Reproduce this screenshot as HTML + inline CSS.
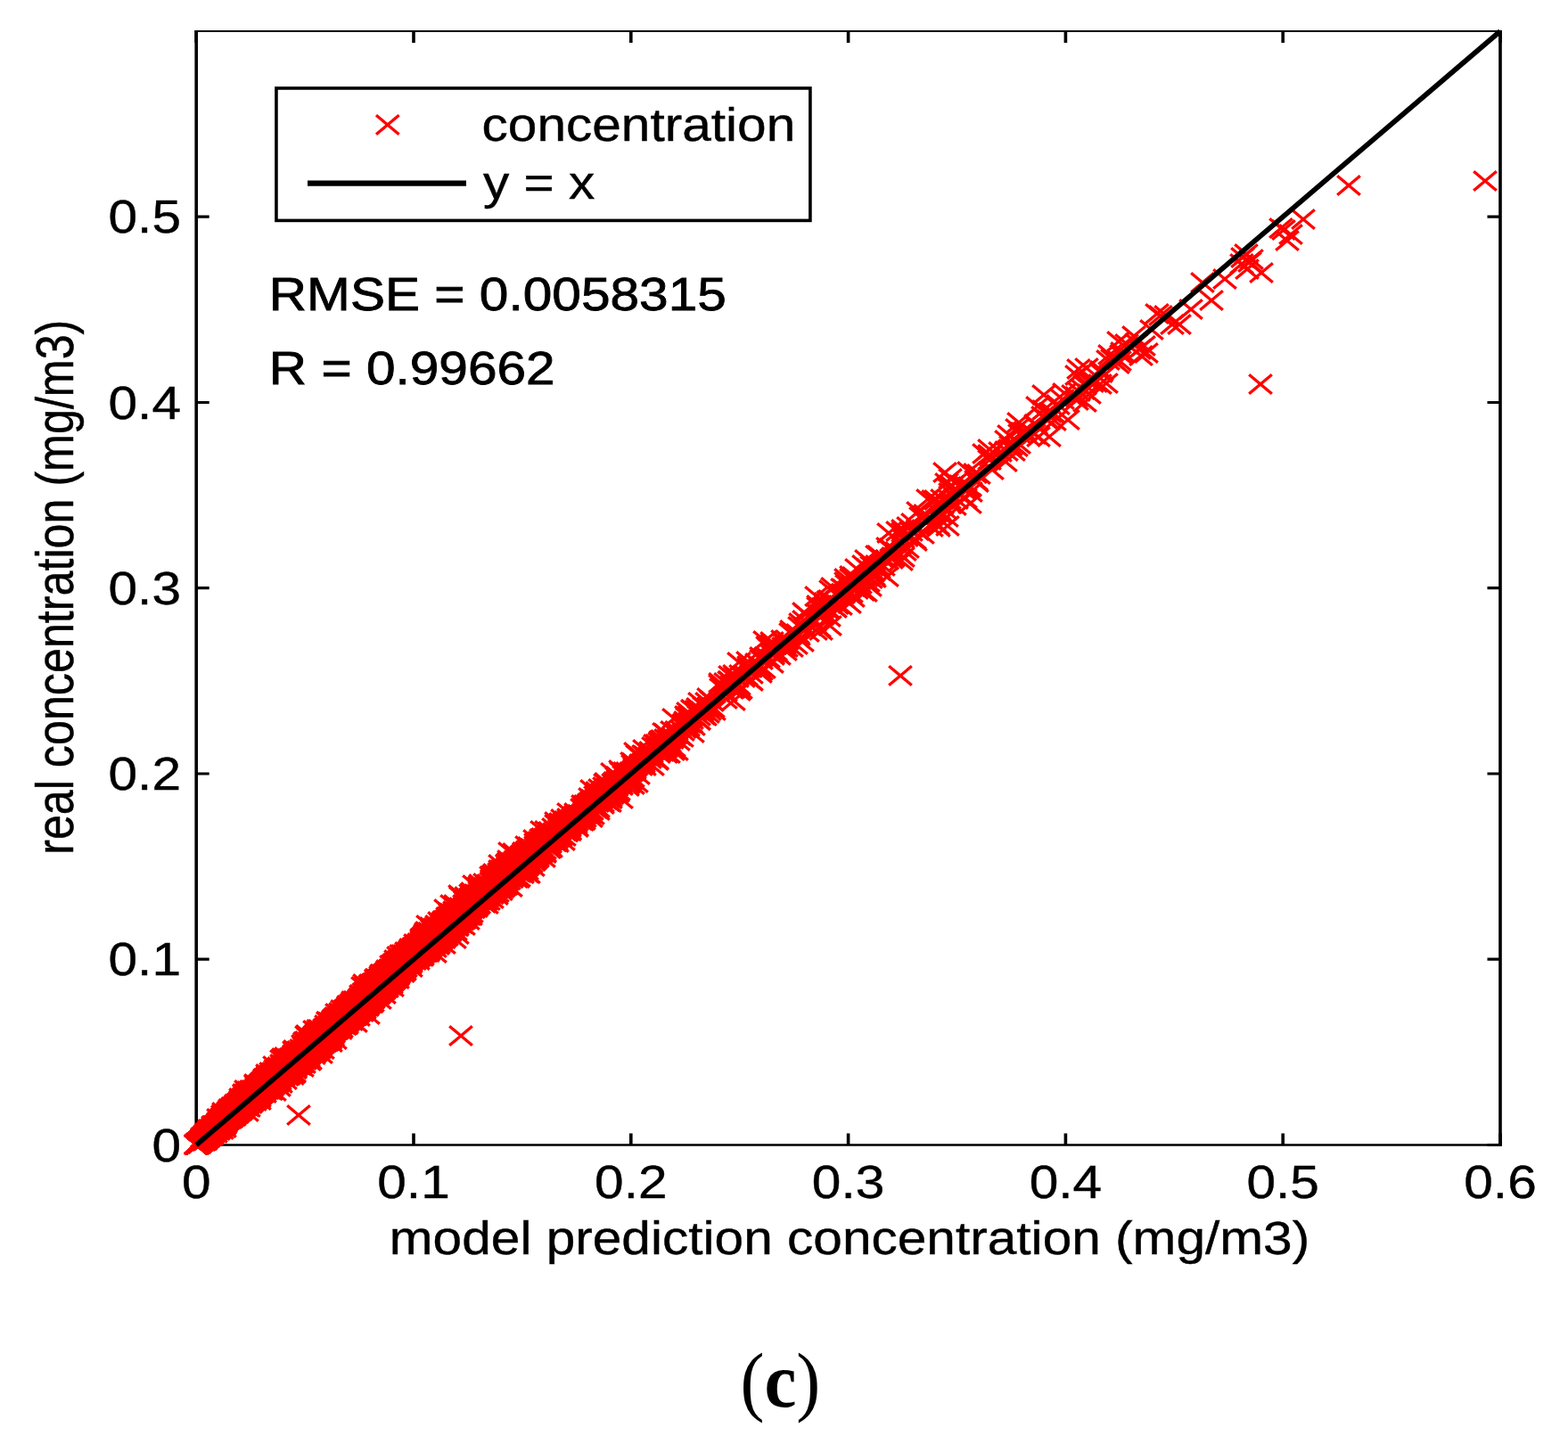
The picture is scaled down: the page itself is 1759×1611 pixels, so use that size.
<!DOCTYPE html><html><head><meta charset="utf-8"><title>scatter</title><style>html,body{margin:0;padding:0;background:#fff;overflow:hidden}svg{display:block}</style></head><body><svg width="1759" height="1611" viewBox="0 0 1759 1611" font-family="Liberation Sans, Arial, sans-serif"><rect x="0" y="0" width="1759" height="1611" fill="#fff"/><path d="M220.2 34.0V1285.8M1683.0 34.0V1285.8" stroke="#000" stroke-width="3.6" fill="none"/><path d="M218.39999999999998 35.0H1684.8" stroke="#000" stroke-width="2.0" fill="none"/><path d="M218.39999999999998 1284.5H1684.8" stroke="#000" stroke-width="2.6" fill="none"/><path d="M220.2 1284.5v-13M220.2 35.0v13M464.0 1284.5v-13M464.0 35.0v13M707.8 1284.5v-13M707.8 35.0v13M951.6 1284.5v-13M951.6 35.0v13M1195.4 1284.5v-13M1195.4 35.0v13M1439.2 1284.5v-13M1439.2 35.0v13M1683.0 1284.5v-13M1683.0 35.0v13" stroke="#000" stroke-width="3.6" fill="none"/><path d="M220.2 1284.5h14.5M1683.0 1284.5h-14.5M220.2 1076.2h14.5M1683.0 1076.2h-14.5M220.2 868.0h14.5M1683.0 868.0h-14.5M220.2 659.7h14.5M1683.0 659.7h-14.5M220.2 451.5h14.5M1683.0 451.5h-14.5M220.2 243.2h14.5M1683.0 243.2h-14.5" stroke="#000" stroke-width="3.2" fill="none"/><defs><marker id="m" markerUnits="userSpaceOnUse" markerWidth="40" markerHeight="40" refX="20" refY="20" overflow="visible"><path d="M7.199999999999999 9.25l25.6 21.5m0 -21.5l-25.6 21.5" stroke="#f00" stroke-width="3.3" fill="none"/></marker></defs><path d="M220 1284 220 1284 220 1284 220 1284 220 1284 220 1284 220 1284 220 1284 220 1284 220 1284 220 1284 220 1284 220 1284 220 1284 220 1284 220 1284 220 1284 220 1284 220 1284 220 1284 220 1284 221 1284 221 1284 221 1284 221 1284 221 1284 221 1284 221 1284 221 1284 221 1284 221 1284 221 1284 221 1284 221 1284 221 1284 221 1284 221 1284 221 1284 221 1284 221 1284 221 1284 221 1284 221 1283 221 1284 221 1284 221 1284 221 1284 221 1284 221 1284 221 1284 221 1283 221 1283 221 1283 222 1283 222 1283 222 1283 222 1283 222 1283 222 1283 222 1283 222 1283 222 1283 222 1283 222 1283 222 1283 222 1283 222 1283 222 1283 222 1283 222 1283 222 1283 222 1283 222 1283 222 1283 222 1283 222 1283 222 1283 222 1283 222 1283 222 1283 222 1283 222 1283 222 1283 222 1283 222 1283 222 1283 222 1283 222 1282 222 1282 222 1283 222 1283 222 1283 222 1283 222 1282 222 1283 223 1282 223 1283 223 1282 223 1282 223 1283 223 1282 223 1282 223 1282 223 1282 223 1282 223 1282 223 1282 223 1283 223 1282 223 1282 223 1282 223 1282 223 1282 223 1282 223 1282 223 1282 223 1282 223 1282 223 1282 223 1282 223 1282 223 1282 223 1282 223 1282 223 1282 223 1282 223 1282 223 1282 223 1282 223 1282 223 1282 223 1282 223 1282 223 1282 223 1282 224 1281 224 1282 224 1282 224 1282 224 1281 224 1281 224 1282 224 1282 224 1281 224 1281 224 1281 224 1281 224 1281 224 1283 224 1281 224 1281 224 1281 224 1281 224 1282 224 1281 224 1281 224 1281 224 1281 224 1281 224 1281 224 1281 224 1281 224 1281 224 1281 224 1281 224 1282 224 1281 224 1281 224 1281 224 1281 224 1281 225 1280 225 1280 225 1280 225 1281 225 1280 225 1281 225 1281 225 1280 225 1281 225 1281 225 1280 225 1280 225 1280 225 1281 225 1280 225 1280 225 1280 225 1281 225 1280 225 1280 225 1281 225 1280 225 1280 225 1280 225 1280 226 1279 226 1280 226 1280 226 1280 226 1279 226 1279 226 1280 226 1280 226 1279 226 1280 226 1280 226 1279 226 1279 226 1280 226 1279 226 1279 226 1279 226 1280 226 1279 226 1279 226 1280 226 1279 226 1279 226 1279 226 1279 227 1279 227 1279 227 1278 227 1279 227 1279 227 1280 227 1279 227 1279 227 1279 227 1279 227 1279 227 1279 227 1279 227 1279 227 1278 227 1280 227 1280 227 1278 227 1279 227 1279 227 1278 227 1279 227 1279 227 1277 227 1278 227 1278 227 1279 227 1278 227 1279 227 1278 227 1277 227 1279 227 1277 227 1276 227 1278 227 1278 227 1278 227 1278 227 1278 228 1278 228 1278 228 1278 228 1278 228 1278 228 1278 228 1277 228 1278 228 1278 228 1278 228 1278 228 1278 228 1279 228 1276 228 1279 228 1278 228 1278 228 1278 228 1277 228 1278 228 1278 228 1278 228 1277 228 1278 228 1278 228 1277 228 1277 228 1278 228 1278 228 1278 228 1278 228 1278 228 1278 228 1276 228 1277 228 1277 228 1277 228 1277 228 1277 228 1278 228 1277 228 1279 228 1277 228 1277 229 1277 229 1277 229 1277 229 1277 229 1277 229 1277 229 1277 229 1277 229 1277 229 1277 229 1278 229 1276 229 1278 229 1279 229 1276 229 1278 229 1277 229 1277 229 1276 229 1277 229 1277 229 1276 229 1277 229 1276 229 1280 229 1276 229 1278 229 1278 229 1277 229 1277 229 1276 229 1277 229 1276 229 1277 229 1275 229 1276 229 1276 229 1277 229 1276 230 1276 230 1277 230 1277 230 1276 230 1276 230 1276 230 1276 230 1276 230 1276 230 1276 230 1276 230 1276 230 1276 230 1276 230 1277 230 1273 230 1276 230 1276 230 1276 230 1276 230 1275 230 1277 230 1279 230 1276 230 1275 230 1276 230 1276 230 1275 230 1276 230 1275 230 1276 230 1276 231 1275 231 1275 231 1276 231 1275 231 1276 231 1278 231 1275 231 1277 231 1274 231 1275 231 1275 231 1274 231 1276 231 1276 231 1275 231 1275 231 1276 231 1275 231 1276 231 1279 231 1275 231 1275 231 1275 231 1273 231 1276 231 1275 231 1275 231 1275 231 1276 231 1276 231 1275 231 1275 231 1277 231 1275 231 1275 231 1275 231 1275 231 1276 231 1275 231 1274 231 1274 231 1276 231 1275 231 1275 231 1275 232 1275 232 1274 232 1275 232 1275 232 1273 232 1275 232 1274 232 1274 232 1272 232 1275 232 1275 232 1276 232 1273 232 1275 232 1275 232 1274 232 1275 232 1276 232 1274 232 1271 232 1274 232 1275 232 1274 232 1274 232 1273 232 1275 232 1275 232 1274 232 1274 232 1273 232 1273 232 1275 232 1274 232 1272 232 1275 232 1274 232 1274 232 1274 233 1272 233 1274 233 1274 233 1273 233 1273 233 1274 233 1273 233 1273 233 1275 233 1273 233 1275 233 1274 233 1274 233 1274 233 1274 233 1275 233 1274 233 1273 233 1275 233 1273 233 1273 233 1272 233 1274 233 1274 233 1274 233 1273 233 1273 233 1273 233 1273 233 1271 233 1273 233 1274 233 1272 233 1272 233 1274 233 1271 233 1273 233 1274 233 1274 233 1272 233 1273 233 1274 233 1273 233 1272 233 1274 233 1276 233 1274 233 1273 234 1273 234 1273 234 1272 234 1272 234 1272 234 1273 234 1272 234 1276 234 1273 234 1273 234 1274 234 1272 234 1272 234 1272 234 1272 234 1273 234 1273 234 1272 234 1273 234 1272 234 1273 234 1273 234 1274 234 1272 234 1273 234 1271 234 1274 234 1271 234 1274 234 1273 234 1272 234 1272 234 1273 234 1272 234 1272 234 1272 234 1272 234 1273 235 1271 235 1271 235 1272 235 1269 235 1270 235 1271 235 1271 235 1271 235 1271 235 1272 235 1272 235 1268 235 1272 235 1271 235 1272 235 1273 235 1272 235 1272 235 1272 235 1267 235 1272 235 1271 235 1271 235 1270 235 1271 235 1272 235 1274 235 1272 235 1272 235 1272 235 1269 235 1271 235 1270 235 1273 236 1273 236 1272 236 1272 236 1271 236 1270 236 1272 236 1274 236 1271 236 1270 236 1270 236 1271 236 1269 236 1269 236 1273 236 1269 236 1270 236 1271 236 1270 236 1270 236 1271 236 1270 236 1270 236 1273 236 1270 236 1269 236 1271 236 1273 236 1269 236 1269 236 1270 236 1271 236 1270 237 1269 237 1271 237 1270 237 1273 237 1270 237 1270 237 1269 237 1270 237 1271 237 1271 237 1268 237 1267 237 1270 237 1269 237 1269 237 1271 237 1269 237 1270 237 1269 237 1269 237 1269 237 1269 237 1270 237 1268 237 1269 237 1269 237 1269 237 1271 237 1271 237 1269 237 1270 237 1270 237 1272 238 1270 238 1270 238 1268 238 1270 238 1269 238 1270 238 1269 238 1268 238 1270 238 1266 238 1270 238 1268 238 1269 238 1269 238 1266 238 1268 238 1268 238 1268 238 1267 238 1268 238 1268 238 1270 238 1270 238 1269 238 1268 238 1273 238 1269 238 1268 238 1268 238 1268 238 1268 238 1268 238 1269 238 1268 238 1272 238 1267 239 1270 239 1266 239 1263 239 1270 239 1269 239 1269 239 1266 239 1268 239 1269 239 1267 239 1268 239 1266 239 1268 239 1268 239 1268 239 1268 239 1268 239 1267 239 1267 239 1267 239 1267 239 1267 239 1267 239 1267 239 1267 239 1268 239 1268 239 1268 239 1269 239 1268 239 1267 239 1268 239 1268 239 1267 239 1270 239 1269 239 1267 239 1269 239 1267 239 1267 239 1268 239 1267 240 1269 240 1267 240 1267 240 1267 240 1268 240 1266 240 1267 240 1268 240 1268 240 1267 240 1269 240 1267 240 1267 240 1265 240 1263 240 1267 240 1268 240 1266 240 1267 240 1267 240 1265 240 1266 240 1268 240 1266 240 1268 240 1265 240 1266 240 1268 240 1268 240 1265 240 1267 241 1267 241 1264 241 1265 241 1268 241 1266 241 1266 241 1266 241 1265 241 1266 241 1267 241 1266 241 1265 241 1265 241 1267 241 1267 241 1266 241 1267 241 1265 241 1266 241 1269 241 1266 241 1266 241 1267 241 1267 241 1267 241 1266 241 1267 241 1268 241 1267 241 1266 241 1265 241 1263 241 1266 241 1264 241 1265 241 1266 241 1265 241 1265 242 1265 242 1264 242 1266 242 1265 242 1265 242 1266 242 1265 242 1266 242 1265 242 1263 242 1265 242 1265 242 1268 242 1264 242 1265 242 1264 242 1266 242 1266 242 1266 242 1264 242 1265 242 1271 242 1264 242 1266 242 1265 242 1265 243 1266 243 1262 243 1263 243 1264 243 1266 243 1266 243 1266 243 1265 243 1262 243 1263 243 1267 243 1265 243 1263 243 1265 243 1263 243 1263 243 1264 243 1263 243 1265 243 1263 243 1264 243 1265 244 1265 244 1264 244 1262 244 1265 244 1263 244 1267 244 1262 244 1264 244 1263 244 1264 244 1263 244 1262 244 1265 244 1264 244 1263 244 1261 244 1262 244 1264 244 1264 244 1264 244 1262 244 1263 244 1264 244 1264 244 1261 244 1264 245 1264 245 1265 245 1263 245 1260 245 1261 245 1264 245 1265 245 1262 245 1261 245 1264 245 1259 245 1260 245 1263 245 1264 245 1263 245 1265 245 1263 245 1264 245 1261 245 1263 245 1262 245 1255 245 1262 245 1263 245 1261 245 1261 245 1268 245 1259 245 1262 245 1263 245 1262 245 1263 246 1260 246 1263 246 1262 246 1260 246 1262 246 1261 246 1263 246 1262 246 1264 246 1261 246 1260 246 1262 246 1262 246 1262 246 1261 246 1263 246 1261 246 1261 246 1262 246 1260 246 1260 246 1263 246 1261 246 1258 246 1266 246 1262 246 1261 246 1262 246 1260 246 1259 247 1259 247 1260 247 1259 247 1262 247 1260 247 1261 247 1261 247 1259 247 1259 247 1260 247 1260 247 1261 247 1262 247 1258 247 1262 247 1259 247 1260 247 1259 247 1263 247 1262 247 1262 247 1260 247 1260 247 1264 247 1261 247 1260 247 1259 247 1261 247 1262 247 1261 247 1260 247 1261 247 1260 248 1257 248 1260 248 1261 248 1259 248 1258 248 1256 248 1260 248 1260 248 1258 248 1260 248 1256 248 1261 248 1261 248 1257 248 1263 248 1259 248 1260 248 1259 248 1260 248 1261 248 1259 248 1259 248 1259 248 1258 248 1261 248 1259 248 1260 248 1261 248 1259 248 1259 249 1257 249 1261 249 1259 249 1258 249 1258 249 1263 249 1260 249 1256 249 1258 249 1262 249 1267 249 1257 249 1261 249 1258 249 1259 249 1259 249 1255 249 1258 249 1258 249 1258 249 1258 249 1261 249 1257 249 1258 249 1260 249 1258 249 1259 249 1259 249 1258 249 1262 249 1258 249 1257 249 1254 249 1261 250 1257 250 1259 250 1259 250 1262 250 1256 250 1258 250 1260 250 1258 250 1258 250 1259 250 1257 250 1257 250 1257 250 1260 250 1257 250 1258 250 1258 250 1257 250 1258 250 1255 250 1260 250 1258 250 1257 250 1257 250 1257 250 1256 250 1260 250 1260 250 1257 250 1259 250 1258 250 1259 250 1260 250 1251 250 1256 250 1257 250 1251 251 1254 251 1256 251 1259 251 1257 251 1255 251 1256 251 1258 251 1258 251 1256 251 1257 251 1259 251 1258 251 1256 251 1256 251 1248 251 1255 251 1259 251 1257 251 1257 251 1255 251 1257 251 1256 251 1256 251 1255 251 1257 252 1256 252 1265 252 1255 252 1255 252 1256 252 1256 252 1254 252 1253 252 1257 252 1257 252 1255 252 1256 252 1258 252 1257 252 1256 252 1257 252 1256 252 1255 252 1259 252 1255 252 1257 252 1254 252 1255 252 1257 252 1255 252 1256 252 1256 252 1256 252 1255 252 1256 252 1255 252 1255 252 1253 252 1252 252 1256 252 1256 252 1257 252 1252 252 1262 252 1253 252 1255 252 1255 252 1252 253 1257 253 1256 253 1255 253 1256 253 1257 253 1254 253 1253 253 1256 253 1260 253 1253 253 1252 253 1253 253 1254 253 1253 253 1256 253 1251 253 1256 253 1255 253 1253 253 1253 254 1254 254 1255 254 1254 254 1256 254 1254 254 1255 254 1253 254 1253 254 1250 254 1254 254 1256 254 1251 254 1256 254 1257 254 1252 254 1253 254 1253 254 1253 254 1253 254 1255 254 1253 254 1251 254 1255 254 1256 254 1251 254 1253 254 1253 254 1255 254 1258 254 1257 255 1256 255 1252 255 1253 255 1251 255 1250 255 1253 255 1254 255 1254 255 1255 255 1252 255 1254 255 1254 255 1252 255 1255 255 1250 255 1255 255 1251 255 1253 255 1251 255 1253 255 1254 255 1255 255 1252 255 1252 255 1256 255 1255 255 1252 255 1251 255 1254 255 1253 255 1254 256 1254 256 1250 256 1252 256 1250 256 1251 256 1253 256 1256 256 1251 256 1254 256 1254 256 1251 256 1252 256 1252 256 1251 256 1253 256 1252 256 1253 256 1251 256 1254 256 1254 256 1253 256 1247 256 1251 256 1252 256 1253 256 1254 256 1252 256 1253 256 1252 256 1250 256 1254 256 1251 256 1253 256 1249 256 1252 256 1254 257 1254 257 1249 257 1253 257 1253 257 1254 257 1254 257 1254 257 1252 257 1253 257 1251 257 1254 257 1251 257 1251 257 1253 257 1251 257 1253 257 1250 257 1250 257 1255 257 1254 257 1249 257 1251 257 1250 257 1251 257 1254 257 1250 257 1249 257 1252 257 1252 257 1251 257 1250 257 1251 257 1254 257 1251 257 1252 257 1250 258 1250 258 1253 258 1255 258 1247 258 1250 258 1253 258 1251 258 1252 258 1253 258 1245 258 1250 258 1250 258 1253 258 1251 258 1252 258 1249 258 1251 258 1249 258 1250 258 1244 258 1251 258 1254 258 1252 258 1249 258 1249 258 1247 258 1254 258 1252 258 1251 258 1248 258 1250 258 1249 258 1249 258 1249 258 1254 258 1249 258 1249 259 1251 259 1249 259 1250 259 1250 259 1253 259 1247 259 1252 259 1251 259 1246 259 1251 259 1251 259 1250 259 1247 259 1251 259 1249 259 1249 259 1246 259 1249 259 1249 259 1251 259 1253 259 1250 259 1249 259 1246 259 1252 259 1248 260 1245 260 1249 260 1249 260 1248 260 1248 260 1249 260 1249 260 1248 260 1248 260 1251 260 1251 260 1251 260 1249 260 1249 260 1249 260 1247 260 1249 260 1254 260 1251 260 1248 260 1251 260 1250 260 1252 260 1248 260 1246 260 1249 260 1250 260 1248 260 1247 260 1249 260 1248 260 1249 260 1247 260 1248 261 1247 261 1248 261 1250 261 1248 261 1246 261 1247 261 1249 261 1251 261 1250 261 1247 261 1246 261 1247 261 1242 261 1247 261 1245 261 1252 261 1246 261 1248 261 1249 261 1249 261 1248 261 1247 261 1247 261 1247 261 1245 261 1244 261 1252 261 1247 261 1248 261 1243 261 1249 261 1247 261 1251 261 1248 262 1244 262 1247 262 1245 262 1248 262 1247 262 1247 262 1248 262 1247 262 1243 262 1247 262 1244 262 1245 262 1248 262 1244 262 1247 262 1247 262 1248 262 1245 262 1247 262 1246 262 1247 262 1246 262 1247 262 1246 262 1245 262 1247 262 1247 262 1248 262 1246 262 1250 262 1245 262 1248 262 1246 262 1245 263 1244 263 1247 263 1242 263 1244 263 1243 263 1246 263 1248 263 1247 263 1247 263 1246 263 1249 263 1249 263 1245 263 1247 263 1245 263 1247 263 1252 263 1248 263 1244 263 1248 263 1245 263 1244 263 1247 263 1243 263 1247 263 1244 263 1247 263 1247 263 1243 263 1245 263 1245 263 1246 263 1245 264 1245 264 1247 264 1245 264 1243 264 1248 264 1247 264 1246 264 1245 264 1247 264 1240 264 1246 264 1242 264 1245 264 1246 264 1244 264 1245 264 1247 264 1245 264 1248 264 1244 264 1244 264 1246 264 1245 264 1241 264 1241 264 1246 264 1248 264 1244 264 1247 264 1246 264 1244 264 1250 264 1242 264 1246 264 1243 264 1247 265 1245 265 1245 265 1245 265 1244 265 1246 265 1246 265 1243 265 1247 265 1247 265 1244 265 1243 265 1246 265 1246 265 1239 265 1246 265 1240 265 1247 265 1242 265 1243 265 1243 265 1244 265 1242 265 1244 265 1245 265 1244 265 1245 265 1244 265 1244 265 1239 265 1246 265 1243 265 1239 266 1246 266 1246 266 1242 266 1245 266 1242 266 1244 266 1246 266 1247 266 1240 266 1247 266 1241 266 1242 266 1243 266 1245 266 1242 266 1245 266 1247 266 1242 266 1245 266 1246 266 1243 266 1241 266 1249 266 1244 266 1243 266 1248 266 1240 266 1241 266 1240 266 1243 266 1249 266 1243 266 1246 266 1244 266 1242 266 1242 267 1240 267 1243 267 1247 267 1248 267 1242 267 1242 267 1242 267 1246 267 1241 267 1241 267 1239 267 1241 267 1240 267 1245 267 1242 267 1239 267 1241 267 1241 267 1240 267 1242 267 1245 267 1238 267 1242 267 1241 267 1238 267 1244 267 1245 268 1241 268 1244 268 1237 268 1242 268 1240 268 1244 268 1243 268 1244 268 1241 268 1244 268 1244 268 1242 268 1242 268 1245 268 1242 268 1238 268 1243 268 1243 268 1243 268 1245 268 1239 268 1238 268 1238 268 1245 268 1239 268 1240 268 1240 268 1239 268 1242 268 1242 268 1241 268 1247 268 1243 268 1240 268 1244 268 1240 268 1242 268 1242 268 1239 268 1238 269 1239 269 1242 269 1239 269 1238 269 1240 269 1240 269 1239 269 1239 269 1241 269 1241 269 1243 269 1240 269 1241 269 1243 269 1241 269 1239 269 1241 269 1241 269 1236 269 1238 269 1241 269 1241 270 1234 270 1238 270 1243 270 1239 270 1244 270 1241 270 1242 270 1242 270 1237 270 1240 270 1240 270 1242 270 1239 270 1238 270 1240 270 1240 270 1243 270 1243 270 1241 270 1232 270 1240 270 1241 270 1242 270 1238 270 1240 270 1241 270 1244 270 1244 270 1237 270 1238 270 1241 270 1239 270 1241 270 1243 270 1240 270 1239 270 1246 270 1238 270 1236 270 1237 270 1238 271 1237 271 1241 271 1238 271 1240 271 1240 271 1238 271 1235 271 1238 271 1238 271 1240 271 1239 271 1241 271 1237 271 1237 271 1238 271 1239 271 1240 271 1236 271 1239 271 1241 271 1243 271 1238 271 1238 271 1237 271 1238 271 1240 271 1241 271 1236 272 1238 272 1237 272 1242 272 1238 272 1240 272 1237 272 1242 272 1241 272 1240 272 1238 272 1240 272 1236 272 1238 272 1236 272 1236 272 1238 272 1239 272 1236 272 1238 272 1239 272 1236 272 1244 272 1241 272 1238 272 1238 272 1237 272 1236 272 1238 273 1235 273 1240 273 1235 273 1239 273 1239 273 1235 273 1240 273 1240 273 1236 273 1241 273 1237 273 1238 273 1239 273 1241 273 1237 273 1239 273 1241 273 1234 273 1238 273 1237 273 1240 273 1235 273 1238 273 1241 273 1237 273 1243 273 1237 273 1239 273 1237 273 1235 273 1232 273 1232 273 1237 273 1240 274 1236 274 1237 274 1235 274 1238 274 1235 274 1239 274 1236 274 1235 274 1237 274 1236 274 1240 274 1239 274 1236 274 1228 274 1237 274 1236 274 1235 274 1235 274 1238 274 1235 274 1237 274 1239 274 1235 274 1232 274 1236 274 1234 274 1233 274 1227 274 1241 274 1233 274 1237 274 1233 274 1238 274 1235 274 1238 275 1237 275 1236 275 1236 275 1237 275 1238 275 1236 275 1239 275 1235 275 1234 275 1236 275 1237 275 1238 275 1232 275 1235 275 1233 275 1238 275 1236 275 1237 275 1238 275 1234 275 1236 275 1237 275 1236 275 1230 275 1239 275 1237 275 1233 275 1234 275 1237 275 1233 275 1237 276 1231 276 1236 276 1235 276 1237 276 1238 276 1234 276 1236 276 1235 276 1233 276 1237 276 1233 276 1237 276 1237 276 1238 276 1235 276 1238 276 1223 276 1236 276 1234 276 1236 276 1232 276 1237 276 1233 277 1238 277 1231 277 1231 277 1233 277 1232 277 1238 277 1232 277 1237 277 1236 277 1234 277 1233 277 1232 277 1238 277 1237 277 1247 277 1234 277 1232 277 1234 277 1234 277 1226 277 1232 277 1235 277 1241 277 1234 277 1235 277 1229 277 1237 277 1234 277 1233 277 1234 277 1236 278 1238 278 1234 278 1234 278 1235 278 1229 278 1236 278 1230 278 1235 278 1238 278 1235 278 1234 278 1236 278 1230 278 1235 278 1232 278 1234 278 1230 278 1235 278 1236 278 1231 278 1237 278 1233 278 1234 278 1235 278 1232 278 1233 278 1237 278 1238 278 1231 278 1231 278 1238 278 1237 278 1233 279 1232 279 1231 279 1232 279 1235 279 1233 279 1231 279 1232 279 1235 279 1232 279 1230 279 1237 279 1232 279 1233 279 1233 279 1233 279 1234 279 1232 279 1232 279 1231 279 1233 279 1230 279 1237 279 1231 279 1234 279 1234 279 1234 279 1231 279 1231 279 1232 279 1224 279 1242 279 1235 279 1232 280 1234 280 1237 280 1232 280 1229 280 1233 280 1231 280 1232 280 1235 280 1231 280 1234 280 1227 280 1228 280 1232 280 1230 280 1232 280 1232 280 1233 280 1234 280 1234 280 1235 280 1233 280 1225 280 1236 280 1231 280 1236 280 1233 280 1230 280 1232 280 1229 280 1234 280 1235 280 1233 280 1233 280 1230 280 1231 280 1231 280 1232 280 1232 281 1236 281 1231 281 1236 281 1228 281 1230 281 1228 281 1233 281 1238 281 1229 281 1233 281 1231 281 1232 281 1234 281 1230 281 1233 281 1230 281 1236 281 1234 281 1225 281 1231 281 1225 281 1228 281 1226 281 1233 281 1225 281 1230 281 1231 281 1231 281 1230 281 1230 282 1229 282 1229 282 1227 282 1234 282 1230 282 1232 282 1230 282 1232 282 1229 282 1230 282 1226 282 1232 282 1232 282 1228 282 1227 282 1228 282 1228 282 1231 282 1231 282 1231 282 1227 282 1226 282 1230 282 1231 282 1230 282 1231 282 1230 282 1223 282 1229 282 1227 282 1225 283 1228 283 1232 283 1227 283 1228 283 1229 283 1230 283 1227 283 1230 283 1228 283 1236 283 1231 283 1232 283 1225 283 1230 283 1224 283 1227 283 1231 283 1226 283 1227 283 1230 283 1229 283 1227 283 1232 283 1230 283 1226 283 1227 283 1229 283 1227 283 1234 283 1228 283 1227 283 1234 283 1227 284 1228 284 1229 284 1230 284 1226 284 1231 284 1229 284 1231 284 1223 284 1230 284 1224 284 1227 284 1229 284 1226 284 1226 284 1230 284 1227 284 1225 284 1225 284 1227 284 1229 284 1226 284 1226 285 1228 285 1229 285 1231 285 1230 285 1232 285 1232 285 1227 285 1230 285 1227 285 1230 285 1229 285 1226 285 1225 285 1234 285 1225 285 1229 285 1226 285 1229 285 1229 285 1230 285 1229 285 1225 285 1230 285 1230 285 1226 285 1229 285 1226 285 1230 285 1229 285 1229 285 1226 285 1229 285 1229 285 1230 285 1224 286 1224 286 1227 286 1227 286 1223 286 1227 286 1229 286 1227 286 1225 286 1230 286 1230 286 1225 286 1229 286 1235 286 1225 286 1226 286 1227 286 1226 286 1226 286 1230 286 1229 286 1228 286 1231 286 1230 286 1228 286 1225 286 1228 286 1228 286 1231 286 1226 287 1224 287 1222 287 1225 287 1223 287 1229 287 1223 287 1225 287 1229 287 1228 287 1225 287 1224 287 1227 287 1222 287 1216 287 1217 287 1229 287 1229 287 1229 287 1226 287 1228 287 1223 287 1229 287 1229 287 1228 287 1230 287 1223 287 1226 287 1229 287 1226 287 1227 287 1228 288 1228 288 1226 288 1225 288 1223 288 1222 288 1225 288 1221 288 1221 288 1225 288 1223 288 1221 288 1225 288 1231 288 1225 288 1227 288 1228 288 1224 288 1225 288 1227 288 1224 288 1232 288 1232 288 1226 288 1232 288 1226 288 1221 288 1222 288 1219 288 1226 288 1223 288 1225 289 1224 289 1227 289 1222 289 1226 289 1224 289 1225 289 1224 289 1225 289 1222 289 1227 289 1223 289 1231 289 1220 289 1226 289 1222 289 1222 289 1226 289 1219 289 1221 289 1226 289 1226 289 1223 289 1225 289 1227 289 1227 289 1221 289 1226 289 1222 289 1227 289 1225 289 1224 289 1223 289 1230 289 1225 290 1224 290 1227 290 1223 290 1227 290 1221 290 1224 290 1222 290 1220 290 1225 290 1224 290 1224 290 1222 290 1224 290 1226 290 1225 290 1221 290 1224 290 1222 290 1222 290 1224 290 1225 290 1224 290 1225 290 1221 290 1221 290 1223 290 1220 290 1225 291 1223 291 1223 291 1225 291 1225 291 1222 291 1220 291 1220 291 1225 291 1226 291 1220 291 1217 291 1219 291 1223 291 1223 291 1224 291 1227 291 1222 291 1223 291 1223 291 1224 291 1226 291 1231 291 1229 291 1223 291 1229 291 1234 291 1225 291 1223 291 1223 291 1226 291 1219 291 1221 292 1223 292 1223 292 1221 292 1227 292 1220 292 1222 292 1218 292 1224 292 1223 292 1222 292 1224 292 1221 292 1224 292 1221 292 1218 292 1223 292 1220 292 1224 292 1222 292 1227 292 1222 292 1226 292 1223 292 1224 292 1220 292 1219 292 1223 292 1220 292 1223 292 1219 292 1222 292 1222 292 1225 292 1222 293 1222 293 1223 293 1226 293 1221 293 1225 293 1224 293 1222 293 1219 293 1219 293 1225 293 1220 293 1222 293 1218 293 1219 293 1221 293 1222 293 1219 293 1222 293 1222 293 1220 293 1220 293 1215 293 1225 293 1223 294 1226 294 1219 294 1226 294 1220 294 1223 294 1221 294 1217 294 1222 294 1214 294 1220 294 1222 294 1219 294 1219 294 1222 294 1220 294 1220 294 1223 294 1220 294 1221 294 1221 294 1221 294 1221 294 1223 294 1220 294 1220 294 1222 294 1220 295 1220 295 1222 295 1220 295 1222 295 1221 295 1220 295 1219 295 1218 295 1214 295 1219 295 1218 295 1218 295 1219 295 1221 295 1222 295 1221 295 1220 295 1218 295 1219 295 1224 295 1217 295 1221 295 1218 295 1215 295 1217 295 1220 296 1224 296 1216 296 1222 296 1217 296 1219 296 1214 296 1218 296 1217 296 1223 296 1223 296 1220 296 1212 296 1220 296 1224 296 1215 296 1223 296 1220 296 1219 296 1219 296 1221 296 1218 296 1221 296 1219 296 1220 296 1217 296 1215 296 1217 296 1223 296 1223 296 1219 297 1216 297 1222 297 1222 297 1222 297 1218 297 1214 297 1220 297 1219 297 1210 297 1222 297 1223 297 1218 297 1226 297 1219 297 1219 297 1219 297 1222 297 1218 297 1219 297 1221 297 1218 297 1218 297 1218 297 1219 297 1213 297 1222 297 1216 297 1218 297 1217 297 1219 297 1223 298 1215 298 1215 298 1221 298 1216 298 1215 298 1221 298 1220 298 1211 298 1216 298 1210 298 1216 298 1220 298 1219 298 1218 298 1217 298 1215 298 1216 298 1222 298 1222 298 1218 298 1216 298 1218 298 1221 298 1219 298 1219 298 1221 298 1222 298 1214 298 1217 298 1219 298 1215 298 1216 298 1215 298 1210 298 1221 298 1221 299 1220 299 1215 299 1219 299 1219 299 1219 299 1217 299 1221 299 1216 299 1218 299 1216 299 1216 299 1214 299 1213 299 1217 299 1215 299 1216 299 1218 299 1213 299 1214 299 1209 299 1215 299 1210 299 1213 300 1205 300 1214 300 1216 300 1218 300 1217 300 1222 300 1215 300 1217 300 1219 300 1216 300 1218 300 1216 300 1208 300 1218 300 1211 300 1219 300 1212 300 1220 300 1215 300 1214 300 1218 300 1212 300 1215 300 1219 300 1215 300 1217 300 1218 301 1217 301 1217 301 1213 301 1218 301 1212 301 1215 301 1215 301 1214 301 1206 301 1218 301 1206 301 1220 301 1212 301 1211 301 1216 301 1217 301 1213 301 1214 301 1210 301 1220 301 1209 301 1214 301 1212 301 1215 301 1215 301 1212 301 1217 301 1214 301 1211 301 1209 301 1214 301 1210 301 1215 301 1215 301 1210 302 1212 302 1211 302 1212 302 1212 302 1213 302 1213 302 1217 302 1211 302 1212 302 1213 302 1214 302 1216 302 1211 302 1211 302 1212 302 1221 302 1213 302 1208 302 1213 302 1215 302 1222 302 1213 303 1217 303 1215 303 1216 303 1220 303 1214 303 1214 303 1214 303 1212 303 1213 303 1219 303 1211 303 1218 303 1213 303 1218 303 1213 303 1214 303 1215 303 1209 303 1214 303 1210 303 1210 303 1213 303 1216 303 1214 303 1211 304 1208 304 1213 304 1211 304 1210 304 1219 304 1210 304 1213 304 1203 304 1212 304 1214 304 1223 304 1214 304 1210 304 1206 304 1210 304 1213 304 1211 304 1212 304 1217 304 1214 304 1214 304 1213 304 1211 304 1213 304 1223 304 1216 304 1212 305 1214 305 1218 305 1212 305 1214 305 1209 305 1215 305 1208 305 1211 305 1205 305 1214 305 1211 305 1217 305 1214 305 1211 305 1213 305 1216 305 1211 305 1212 305 1214 305 1215 305 1211 306 1211 306 1218 306 1209 306 1215 306 1206 306 1208 306 1212 306 1208 306 1208 306 1210 306 1211 306 1204 306 1208 306 1214 306 1212 306 1213 306 1215 306 1211 306 1209 306 1209 306 1211 306 1208 306 1209 306 1214 306 1207 306 1211 306 1214 306 1211 306 1212 306 1207 307 1209 307 1211 307 1203 307 1212 307 1206 307 1216 307 1206 307 1210 307 1212 307 1204 307 1211 307 1208 307 1208 307 1208 307 1212 307 1211 307 1210 307 1209 307 1205 307 1206 307 1210 307 1213 307 1214 307 1209 307 1206 308 1196 308 1211 308 1209 308 1209 308 1212 308 1207 308 1210 308 1224 308 1210 308 1206 308 1207 308 1213 308 1210 308 1214 308 1205 308 1211 308 1207 308 1207 308 1211 308 1205 309 1207 309 1212 309 1212 309 1208 309 1211 309 1205 309 1205 309 1214 309 1208 309 1212 309 1212 309 1211 309 1204 309 1207 309 1211 309 1200 309 1209 309 1210 309 1206 309 1205 309 1205 309 1213 309 1209 309 1208 309 1203 309 1206 310 1208 310 1211 310 1210 310 1209 310 1210 310 1206 310 1214 310 1205 310 1213 310 1208 310 1214 310 1200 310 1208 310 1207 310 1207 310 1204 310 1210 310 1200 310 1208 310 1213 310 1211 310 1209 310 1210 310 1211 310 1211 310 1206 310 1206 311 1215 311 1209 311 1207 311 1205 311 1205 311 1204 311 1204 311 1205 311 1208 311 1211 311 1207 311 1211 311 1206 311 1204 311 1208 311 1209 311 1212 311 1205 311 1202 311 1201 311 1205 312 1207 312 1205 312 1205 312 1207 312 1207 312 1206 312 1210 312 1212 312 1207 312 1202 312 1205 312 1206 312 1205 312 1200 312 1205 312 1203 312 1206 312 1207 312 1209 312 1207 312 1205 312 1210 312 1205 312 1205 312 1206 312 1205 312 1202 312 1206 312 1199 312 1208 312 1207 313 1203 313 1206 313 1203 313 1205 313 1219 313 1203 313 1210 313 1197 313 1207 313 1202 313 1205 313 1200 313 1202 313 1202 313 1205 313 1207 313 1205 313 1201 313 1201 313 1204 313 1207 313 1206 313 1209 313 1209 313 1207 313 1203 313 1206 314 1203 314 1203 314 1201 314 1207 314 1200 314 1206 314 1209 314 1205 314 1204 314 1206 314 1205 314 1205 314 1209 314 1212 314 1200 314 1201 314 1206 314 1201 314 1202 314 1207 314 1200 314 1202 314 1205 314 1202 314 1206 314 1207 315 1202 315 1205 315 1204 315 1206 315 1206 315 1203 315 1202 315 1200 315 1200 315 1202 315 1204 315 1199 315 1207 315 1199 315 1201 315 1207 315 1207 315 1204 315 1202 315 1215 316 1206 316 1201 316 1203 316 1198 316 1206 316 1202 316 1198 316 1200 316 1189 316 1202 316 1205 316 1199 316 1201 316 1200 316 1207 316 1203 316 1194 316 1200 316 1205 316 1202 316 1201 316 1206 317 1202 317 1203 317 1199 317 1203 317 1199 317 1204 317 1208 317 1197 317 1207 317 1205 317 1205 317 1200 317 1195 317 1205 317 1203 317 1198 317 1203 317 1208 317 1199 317 1195 317 1205 317 1200 317 1199 317 1199 318 1201 318 1200 318 1199 318 1204 318 1202 318 1200 318 1200 318 1196 318 1187 318 1196 318 1204 318 1201 318 1200 318 1202 318 1206 318 1198 318 1199 318 1196 318 1197 318 1205 318 1201 318 1202 318 1196 318 1196 318 1202 318 1206 318 1203 318 1202 318 1206 318 1201 318 1199 318 1200 319 1204 319 1199 319 1199 319 1200 319 1202 319 1196 319 1200 319 1200 319 1204 319 1198 319 1204 319 1205 319 1204 319 1199 319 1201 319 1195 319 1201 319 1195 319 1196 319 1206 319 1204 319 1199 319 1195 319 1198 319 1198 319 1203 320 1200 320 1197 320 1199 320 1205 320 1197 320 1203 320 1199 320 1203 320 1211 320 1198 320 1194 320 1198 320 1199 320 1202 320 1203 320 1191 320 1202 320 1202 320 1196 320 1200 320 1203 320 1196 320 1203 320 1199 320 1203 320 1198 320 1196 320 1202 321 1196 321 1197 321 1202 321 1199 321 1201 321 1191 321 1191 321 1198 321 1194 321 1193 321 1196 321 1203 321 1201 321 1199 321 1192 321 1186 321 1196 321 1203 321 1198 321 1192 321 1198 321 1201 321 1201 321 1199 321 1199 321 1200 321 1200 321 1199 321 1197 321 1191 321 1197 321 1200 322 1197 322 1199 322 1201 322 1193 322 1197 322 1207 322 1198 322 1204 322 1197 322 1198 322 1198 322 1200 322 1196 322 1194 322 1193 322 1193 322 1195 322 1197 322 1193 322 1195 322 1198 322 1198 323 1197 323 1200 323 1200 323 1195 323 1197 323 1199 323 1194 323 1198 323 1192 323 1197 323 1196 323 1198 323 1192 323 1198 323 1197 323 1201 323 1196 323 1196 323 1191 323 1198 323 1192 323 1195 323 1201 323 1193 323 1198 323 1198 323 1191 323 1194 323 1198 323 1198 323 1195 323 1200 324 1204 324 1202 324 1196 324 1193 324 1198 324 1195 324 1193 324 1200 324 1198 324 1191 324 1200 324 1196 324 1198 324 1193 324 1188 324 1190 324 1193 324 1195 324 1193 324 1191 324 1197 324 1195 324 1197 324 1191 324 1194 324 1190 324 1199 324 1196 324 1195 324 1191 324 1194 324 1195 324 1195 324 1206 324 1198 325 1196 325 1194 325 1192 325 1201 325 1195 325 1192 325 1194 325 1199 325 1195 325 1194 325 1195 325 1196 325 1192 325 1196 325 1194 325 1197 325 1196 325 1191 325 1198 325 1196 325 1200 325 1193 325 1190 325 1194 325 1194 325 1197 325 1203 325 1197 325 1192 325 1203 325 1195 326 1194 326 1189 326 1189 326 1197 326 1197 326 1198 326 1188 326 1194 326 1189 326 1190 326 1197 326 1195 326 1198 326 1190 326 1194 326 1187 326 1196 326 1193 327 1198 327 1193 327 1196 327 1194 327 1192 327 1194 327 1189 327 1193 327 1195 327 1193 327 1191 327 1196 327 1196 327 1196 327 1188 327 1192 327 1195 327 1193 327 1198 327 1193 327 1189 327 1199 327 1198 327 1192 327 1187 327 1194 327 1189 327 1192 327 1193 327 1189 327 1191 327 1190 327 1193 327 1196 328 1192 328 1192 328 1196 328 1195 328 1202 328 1192 328 1188 328 1195 328 1190 328 1191 328 1193 328 1197 328 1188 328 1189 328 1206 328 1194 328 1194 328 1195 328 1197 328 1190 328 1188 328 1198 328 1191 328 1195 328 1190 328 1187 328 1192 329 1190 329 1197 329 1193 329 1196 329 1192 329 1188 329 1195 329 1186 329 1193 329 1189 329 1189 329 1189 329 1187 329 1193 329 1195 329 1187 329 1194 329 1192 329 1195 329 1196 329 1191 329 1185 329 1193 329 1191 329 1187 330 1193 330 1204 330 1197 330 1195 330 1190 330 1187 330 1190 330 1187 330 1203 330 1197 330 1192 330 1197 330 1194 330 1194 330 1190 330 1192 330 1192 330 1190 330 1186 330 1195 330 1192 330 1194 330 1184 330 1194 330 1195 330 1179 330 1194 330 1187 330 1183 330 1193 330 1193 330 1192 330 1191 331 1189 331 1195 331 1191 331 1191 331 1194 331 1193 331 1193 331 1178 331 1198 331 1192 331 1189 331 1192 331 1192 331 1191 331 1192 331 1189 331 1190 331 1185 331 1191 331 1180 331 1189 331 1199 331 1190 331 1190 331 1190 331 1187 331 1193 331 1191 331 1184 331 1190 331 1194 331 1199 331 1186 332 1188 332 1191 332 1195 332 1190 332 1192 332 1186 332 1189 332 1194 332 1193 332 1193 332 1183 332 1188 332 1192 332 1193 332 1193 332 1189 332 1190 332 1190 332 1186 332 1194 332 1189 332 1185 332 1192 332 1187 332 1192 332 1189 332 1190 332 1188 332 1188 332 1191 332 1193 333 1188 333 1194 333 1189 333 1195 333 1191 333 1193 333 1191 333 1188 333 1191 333 1189 333 1187 333 1188 333 1192 333 1184 333 1191 333 1189 333 1184 333 1186 333 1186 333 1184 334 1186 334 1188 334 1186 334 1188 334 1187 334 1183 334 1187 334 1183 334 1189 334 1185 334 1190 334 1189 334 1189 334 1181 334 1188 334 1192 334 1189 334 1188 334 1188 334 1187 334 1188 334 1191 334 1189 334 1183 335 1187 335 1188 335 1190 335 1185 335 1185 335 1180 335 1191 335 1187 335 1185 335 1184 335 1187 335 1185 335 1185 335 1194 335 1185 335 1192 335 1185 335 1188 335 1192 335 1180 335 1187 335 1179 335 1193 335 1186 335 1191 335 1186 335 1191 335 1188 335 1187 336 1195 336 1182 336 1188 336 1185 336 1189 336 1187 336 1184 336 1186 336 1188 336 1187 336 1181 336 1188 336 1189 336 1191 336 1185 336 1184 336 1184 336 1183 336 1183 336 1189 336 1195 336 1189 336 1184 336 1184 336 1192 336 1182 336 1187 336 1190 336 1186 337 1193 337 1184 337 1187 337 1184 337 1186 337 1188 337 1186 337 1193 337 1188 337 1183 337 1183 337 1184 337 1185 337 1182 337 1183 337 1187 337 1183 337 1187 337 1183 337 1188 337 1185 337 1182 337 1185 337 1184 337 1181 338 1189 338 1177 338 1183 338 1189 338 1188 338 1184 338 1184 338 1185 338 1180 338 1182 338 1183 338 1187 338 1183 338 1190 338 1185 338 1182 338 1186 338 1184 338 1187 338 1182 338 1188 338 1183 339 1181 339 1197 339 1182 339 1186 339 1180 339 1190 339 1179 339 1183 339 1183 339 1184 339 1185 339 1181 339 1187 339 1192 339 1185 339 1183 339 1180 340 1186 340 1181 340 1181 340 1186 340 1181 340 1185 340 1180 340 1181 340 1184 340 1182 340 1172 340 1184 340 1182 340 1187 340 1186 340 1181 340 1185 340 1181 340 1183 340 1187 340 1182 341 1185 341 1185 341 1184 341 1173 341 1174 341 1181 341 1185 341 1182 341 1181 341 1178 341 1181 341 1179 341 1179 341 1178 341 1187 341 1185 341 1187 341 1193 341 1182 341 1178 341 1185 341 1178 341 1182 341 1182 342 1188 342 1169 342 1180 342 1179 342 1178 342 1183 342 1182 342 1182 342 1185 342 1177 342 1180 342 1175 342 1181 342 1181 342 1182 342 1189 342 1180 342 1180 342 1188 342 1180 342 1185 342 1178 342 1181 342 1169 343 1178 343 1175 343 1183 343 1180 343 1187 343 1187 343 1183 343 1178 343 1176 343 1178 343 1181 343 1177 343 1180 343 1178 343 1179 343 1180 343 1180 343 1186 343 1186 343 1177 343 1175 343 1181 343 1177 343 1173 343 1179 344 1181 344 1180 344 1185 344 1185 344 1174 344 1184 344 1177 344 1178 344 1173 344 1184 344 1185 344 1184 344 1181 344 1178 344 1176 344 1177 344 1162 344 1180 344 1178 344 1186 344 1177 344 1168 344 1178 344 1177 344 1179 345 1180 345 1176 345 1178 345 1180 345 1178 345 1177 345 1161 345 1172 345 1179 345 1179 345 1179 345 1187 345 1183 345 1173 345 1170 345 1183 345 1178 345 1183 345 1181 345 1172 345 1180 345 1175 345 1181 345 1171 345 1178 345 1174 345 1171 345 1183 345 1181 345 1174 346 1179 346 1164 346 1179 346 1175 346 1171 346 1180 346 1180 346 1181 346 1176 346 1173 346 1180 346 1177 346 1175 346 1176 346 1178 346 1186 346 1175 346 1181 346 1179 346 1176 347 1179 347 1177 347 1181 347 1178 347 1175 347 1173 347 1172 347 1188 347 1173 347 1179 347 1181 347 1179 347 1177 347 1176 347 1175 347 1178 347 1190 347 1170 347 1183 347 1171 347 1175 347 1176 347 1182 347 1174 347 1179 348 1170 348 1173 348 1180 348 1174 348 1179 348 1169 348 1171 348 1176 348 1175 348 1169 348 1172 348 1174 348 1171 348 1189 348 1174 348 1177 348 1174 348 1175 348 1175 348 1178 348 1174 348 1176 348 1168 348 1178 349 1177 349 1177 349 1178 349 1178 349 1175 349 1175 349 1175 349 1171 349 1174 349 1178 349 1168 349 1170 349 1178 349 1170 350 1170 350 1173 350 1173 350 1172 350 1173 350 1174 350 1173 350 1179 350 1170 350 1176 350 1170 350 1166 350 1171 350 1175 350 1169 350 1169 350 1172 351 1173 351 1177 351 1177 351 1173 351 1181 351 1169 351 1174 351 1171 351 1176 351 1178 351 1173 351 1171 351 1165 351 1177 351 1169 351 1176 351 1177 351 1170 351 1170 352 1180 352 1169 352 1175 352 1168 352 1172 352 1174 352 1175 352 1179 352 1177 352 1176 352 1172 352 1175 352 1181 352 1169 352 1169 352 1174 352 1163 352 1168 352 1166 352 1183 352 1170 352 1174 353 1165 353 1171 353 1176 353 1170 353 1172 353 1170 353 1170 353 1156 353 1171 353 1177 353 1169 353 1165 353 1177 353 1167 353 1174 353 1175 353 1168 353 1172 353 1172 353 1164 353 1174 353 1180 353 1167 353 1167 354 1169 354 1169 354 1170 354 1175 354 1168 354 1164 354 1180 354 1169 354 1174 354 1176 354 1175 354 1171 354 1161 354 1175 354 1174 354 1177 354 1169 354 1161 354 1165 354 1167 354 1170 354 1172 354 1168 354 1165 354 1162 355 1166 355 1173 355 1167 355 1173 355 1173 355 1176 355 1173 355 1166 355 1164 355 1174 355 1173 355 1176 355 1167 355 1165 355 1170 355 1163 356 1167 356 1167 356 1164 356 1174 356 1169 356 1168 356 1176 356 1168 356 1173 356 1169 356 1159 356 1168 356 1169 356 1172 356 1166 356 1166 356 1167 356 1174 356 1167 356 1169 357 1168 357 1169 357 1170 357 1155 357 1172 357 1164 357 1170 357 1166 357 1167 357 1165 357 1161 357 1167 357 1168 357 1162 357 1163 357 1168 357 1172 357 1171 357 1159 357 1168 357 1167 357 1167 357 1162 358 1172 358 1167 358 1168 358 1164 358 1166 358 1177 358 1167 358 1165 358 1169 358 1160 358 1173 358 1168 358 1167 358 1157 358 1171 358 1160 358 1168 358 1168 358 1166 358 1161 359 1166 359 1165 359 1165 359 1162 359 1175 359 1169 359 1165 359 1169 359 1162 359 1160 359 1165 359 1172 359 1162 359 1159 359 1162 359 1166 359 1172 359 1159 359 1163 359 1166 359 1167 359 1155 359 1172 360 1165 360 1160 360 1161 360 1158 360 1169 360 1182 360 1173 360 1162 360 1169 360 1164 360 1166 360 1160 360 1170 360 1165 360 1167 360 1164 360 1168 361 1164 361 1163 361 1162 361 1167 361 1164 361 1159 361 1171 361 1167 361 1167 361 1162 361 1166 361 1163 361 1168 361 1162 361 1162 361 1164 361 1161 361 1166 361 1169 361 1170 361 1167 361 1162 361 1163 361 1164 362 1167 362 1163 362 1177 362 1165 362 1164 362 1165 362 1160 362 1166 362 1168 362 1168 362 1168 362 1164 362 1162 362 1164 362 1160 362 1171 362 1164 362 1162 362 1163 362 1161 362 1166 362 1162 362 1169 362 1160 362 1164 362 1160 362 1161 363 1160 363 1161 363 1162 363 1170 363 1165 363 1162 363 1163 363 1167 363 1165 363 1167 363 1158 363 1160 363 1164 363 1167 363 1163 363 1160 363 1160 363 1169 364 1163 364 1159 364 1159 364 1162 364 1154 364 1165 364 1164 364 1167 364 1163 364 1164 364 1155 364 1160 364 1157 364 1159 364 1163 364 1163 364 1161 364 1168 364 1160 364 1158 364 1162 364 1165 364 1161 365 1166 365 1161 365 1158 365 1156 365 1162 365 1166 365 1169 365 1160 365 1165 365 1157 365 1158 365 1164 365 1157 365 1165 366 1156 366 1160 366 1161 366 1160 366 1166 366 1159 366 1156 366 1153 366 1161 366 1167 366 1163 366 1154 366 1166 366 1150 366 1162 366 1164 366 1162 366 1165 366 1156 366 1156 366 1157 366 1161 367 1153 367 1155 367 1165 367 1164 367 1153 367 1168 367 1165 367 1166 367 1159 367 1152 367 1157 367 1154 367 1160 367 1164 367 1161 367 1159 367 1167 367 1160 367 1162 367 1160 367 1154 367 1158 367 1162 367 1160 368 1155 368 1160 368 1161 368 1157 368 1158 368 1146 368 1154 368 1153 368 1153 368 1157 368 1166 368 1161 368 1153 368 1159 368 1154 368 1146 368 1159 368 1153 368 1166 368 1156 368 1155 369 1156 369 1166 369 1157 369 1151 369 1153 369 1154 369 1159 369 1165 369 1158 369 1147 369 1155 369 1155 369 1159 369 1166 369 1155 370 1162 370 1160 370 1154 370 1159 370 1159 370 1154 370 1152 370 1153 370 1157 370 1166 370 1161 370 1167 370 1153 370 1160 370 1158 370 1147 370 1154 370 1147 371 1151 371 1158 371 1152 371 1153 371 1165 371 1169 371 1152 372 1155 372 1155 372 1147 372 1156 372 1147 372 1160 372 1152 372 1152 372 1154 372 1152 372 1160 372 1151 373 1158 373 1150 373 1162 373 1156 373 1147 373 1153 373 1149 373 1149 373 1153 373 1147 373 1152 373 1151 373 1155 373 1163 373 1157 373 1152 373 1158 374 1154 374 1159 374 1154 374 1157 374 1146 374 1148 374 1154 374 1149 374 1155 374 1152 374 1155 374 1144 374 1155 374 1159 374 1156 375 1152 375 1147 375 1151 375 1150 375 1152 375 1154 375 1152 375 1143 375 1155 375 1152 375 1150 375 1150 375 1148 375 1152 375 1149 375 1147 376 1147 376 1166 376 1148 376 1155 376 1153 376 1156 376 1154 376 1145 376 1154 376 1147 376 1151 376 1151 377 1149 377 1150 377 1152 377 1146 377 1148 377 1149 377 1141 377 1152 377 1145 377 1153 377 1147 377 1149 377 1144 377 1146 378 1150 378 1147 378 1147 378 1147 378 1142 378 1150 378 1155 378 1146 378 1150 378 1145 378 1151 378 1137 378 1143 378 1142 378 1154 379 1147 379 1151 379 1151 379 1152 379 1148 379 1152 379 1142 379 1146 379 1144 379 1145 379 1144 379 1152 379 1151 380 1148 380 1151 380 1144 380 1146 380 1146 380 1141 381 1140 381 1147 381 1154 381 1148 381 1151 381 1140 381 1142 381 1144 381 1146 381 1141 381 1150 381 1150 381 1149 381 1147 381 1142 381 1142 381 1150 381 1149 381 1146 382 1145 382 1144 382 1136 382 1140 382 1144 382 1140 382 1155 382 1146 382 1143 382 1149 382 1149 382 1149 382 1142 382 1143 382 1139 383 1146 383 1149 383 1137 383 1147 383 1146 383 1143 383 1146 383 1143 383 1140 383 1153 383 1147 384 1141 384 1144 384 1146 384 1148 384 1145 384 1143 384 1138 384 1143 384 1133 384 1138 384 1144 384 1141 384 1144 385 1142 385 1148 385 1138 385 1147 385 1141 385 1139 385 1139 385 1144 385 1143 385 1144 385 1146 385 1149 385 1138 385 1141 386 1143 386 1134 386 1144 386 1137 386 1142 386 1143 386 1141 386 1143 386 1141 386 1141 386 1141 386 1140 386 1145 386 1142 386 1145 387 1145 387 1143 387 1140 387 1146 387 1150 387 1148 387 1150 387 1140 387 1133 387 1142 387 1143 387 1141 387 1135 387 1136 387 1144 387 1143 387 1136 388 1140 388 1133 388 1138 388 1133 388 1137 388 1139 388 1138 388 1134 388 1141 388 1135 388 1139 389 1146 389 1147 389 1144 389 1138 389 1139 389 1136 389 1137 389 1135 389 1137 389 1135 389 1134 389 1140 389 1139 389 1136 389 1133 389 1138 389 1138 389 1138 389 1149 389 1132 389 1141 389 1146 390 1145 390 1142 390 1146 390 1139 390 1141 390 1138 390 1144 390 1138 390 1142 390 1130 390 1143 390 1142 390 1139 390 1134 390 1140 390 1140 390 1143 391 1141 391 1137 391 1142 391 1134 391 1137 391 1140 391 1138 391 1141 391 1133 391 1143 391 1137 391 1134 391 1134 391 1133 391 1140 391 1144 391 1135 391 1128 391 1134 391 1143 391 1140 391 1139 391 1137 391 1137 391 1133 392 1135 392 1143 392 1137 392 1134 392 1137 392 1142 392 1137 392 1133 392 1137 392 1142 392 1131 392 1140 392 1143 392 1134 392 1134 392 1139 392 1139 392 1135 392 1138 392 1135 392 1138 392 1136 392 1139 393 1140 393 1134 393 1139 393 1131 393 1142 393 1137 393 1139 393 1140 393 1131 393 1135 393 1142 393 1132 393 1139 393 1139 393 1133 393 1133 393 1131 394 1131 394 1142 394 1140 394 1145 394 1136 394 1139 394 1127 394 1138 394 1133 394 1126 394 1138 394 1136 394 1136 394 1133 394 1133 394 1137 394 1133 394 1131 394 1133 394 1136 395 1140 395 1136 395 1137 395 1141 395 1138 395 1131 395 1126 395 1135 395 1130 395 1141 395 1133 395 1132 395 1136 395 1129 395 1130 395 1129 395 1129 395 1140 395 1128 395 1129 395 1133 396 1140 396 1134 396 1130 396 1138 396 1135 396 1132 396 1135 396 1139 396 1123 396 1135 396 1136 396 1126 396 1132 396 1132 396 1133 396 1132 396 1128 397 1130 397 1132 397 1128 397 1130 397 1126 397 1128 397 1134 397 1137 397 1137 397 1135 397 1135 397 1127 397 1131 397 1126 397 1135 397 1135 397 1137 397 1140 397 1133 397 1133 398 1130 398 1138 398 1135 398 1130 398 1124 398 1129 398 1126 398 1132 398 1128 398 1123 398 1136 398 1133 399 1139 399 1129 399 1135 399 1134 399 1133 399 1139 399 1130 399 1134 399 1138 399 1125 399 1125 399 1147 399 1127 399 1123 399 1124 399 1129 400 1129 400 1128 400 1130 400 1133 400 1134 400 1125 400 1126 400 1134 400 1130 400 1131 400 1136 400 1133 400 1129 400 1127 400 1132 400 1133 400 1128 400 1132 400 1128 400 1131 401 1130 401 1125 401 1129 401 1129 401 1132 401 1129 401 1134 401 1137 401 1129 401 1125 401 1127 402 1125 402 1132 402 1140 402 1134 402 1132 402 1126 402 1130 402 1134 402 1127 402 1132 402 1124 403 1125 403 1135 403 1122 403 1122 403 1127 403 1121 403 1127 403 1121 403 1128 403 1121 403 1131 403 1126 403 1122 403 1127 404 1123 404 1123 404 1124 404 1125 404 1123 404 1126 404 1127 404 1128 404 1131 404 1123 404 1129 404 1128 404 1131 405 1125 405 1126 405 1121 405 1121 405 1123 405 1116 405 1125 405 1129 405 1121 405 1130 405 1125 405 1118 405 1129 405 1131 406 1121 406 1129 406 1119 406 1121 406 1123 406 1127 406 1123 406 1135 406 1117 407 1127 407 1119 407 1128 407 1128 407 1123 407 1131 407 1107 407 1120 408 1126 408 1128 408 1118 408 1122 408 1125 408 1124 408 1130 408 1133 408 1118 408 1120 408 1121 408 1123 408 1114 408 1125 408 1130 408 1121 408 1130 409 1126 409 1126 409 1123 409 1129 409 1126 409 1123 409 1118 409 1108 409 1125 409 1121 409 1124 409 1127 409 1119 409 1118 409 1129 409 1118 409 1119 409 1132 409 1126 409 1117 409 1122 409 1123 409 1104 410 1120 410 1121 410 1125 410 1127 410 1115 410 1126 410 1121 410 1113 410 1120 410 1120 410 1129 410 1123 410 1123 410 1123 410 1114 410 1125 410 1120 410 1123 410 1126 411 1115 411 1127 411 1111 411 1120 411 1119 411 1122 411 1123 411 1121 411 1114 411 1113 411 1115 411 1118 411 1119 411 1114 411 1113 412 1113 412 1115 412 1113 412 1118 412 1122 412 1118 412 1116 412 1118 412 1114 412 1120 412 1111 412 1118 412 1113 412 1113 412 1129 412 1117 412 1116 412 1119 412 1119 412 1120 413 1122 413 1124 413 1114 413 1127 413 1114 413 1123 413 1138 413 1112 413 1127 413 1115 413 1117 413 1119 414 1117 414 1119 414 1121 414 1118 414 1121 414 1119 414 1115 414 1116 414 1117 414 1116 414 1122 414 1119 414 1117 414 1119 415 1113 415 1125 415 1105 415 1113 415 1121 415 1120 415 1122 415 1113 415 1117 415 1113 415 1116 415 1118 415 1115 415 1113 415 1118 415 1110 416 1118 416 1113 416 1117 416 1124 416 1125 416 1120 416 1115 416 1114 416 1113 416 1121 416 1104 416 1115 416 1114 416 1111 416 1119 416 1107 417 1114 417 1113 417 1107 417 1111 417 1116 417 1113 417 1109 417 1112 417 1113 417 1119 417 1125 417 1117 417 1109 417 1117 417 1111 418 1117 418 1112 418 1109 418 1107 418 1104 418 1112 418 1115 418 1118 418 1110 418 1110 418 1116 418 1117 418 1117 418 1117 418 1106 418 1107 418 1115 418 1118 418 1124 418 1121 419 1115 419 1111 419 1118 419 1114 419 1106 419 1118 419 1109 419 1106 419 1120 419 1103 419 1111 419 1117 419 1106 419 1112 419 1119 419 1114 419 1115 419 1116 419 1115 420 1113 420 1110 420 1110 420 1106 420 1115 420 1109 420 1106 420 1114 420 1112 420 1110 420 1111 420 1114 420 1114 420 1117 421 1113 421 1113 421 1107 421 1110 421 1106 421 1111 421 1106 421 1110 421 1106 421 1108 421 1111 421 1108 421 1102 421 1113 421 1110 421 1105 422 1114 422 1111 422 1099 422 1109 422 1111 422 1104 422 1117 422 1108 422 1098 422 1111 423 1111 423 1114 423 1109 423 1104 423 1109 423 1113 423 1098 423 1108 423 1110 423 1106 423 1115 423 1114 423 1109 423 1116 423 1110 423 1110 423 1106 424 1102 424 1099 424 1109 424 1105 424 1112 424 1103 424 1111 424 1116 424 1110 424 1111 424 1113 424 1104 424 1105 424 1102 424 1111 424 1110 425 1109 425 1113 425 1109 425 1101 425 1111 425 1111 425 1104 425 1106 425 1112 425 1103 425 1107 425 1108 425 1115 425 1106 425 1107 425 1104 425 1103 426 1114 426 1111 426 1121 426 1106 426 1101 426 1101 426 1110 426 1111 426 1110 426 1098 426 1112 426 1108 426 1102 426 1105 426 1109 426 1104 426 1109 426 1105 427 1106 427 1106 427 1109 427 1110 427 1095 427 1101 427 1103 427 1100 427 1108 427 1104 427 1105 427 1110 427 1097 427 1100 428 1107 428 1093 428 1108 428 1101 428 1103 428 1102 428 1104 428 1107 429 1101 429 1110 429 1112 429 1098 429 1106 429 1107 429 1093 429 1108 429 1107 429 1106 429 1099 429 1111 430 1102 430 1098 430 1105 430 1099 430 1106 430 1094 430 1094 430 1104 430 1107 430 1099 430 1103 430 1109 431 1098 431 1098 431 1094 431 1099 431 1109 431 1097 431 1100 431 1109 431 1107 431 1093 431 1102 431 1110 431 1115 431 1104 431 1102 431 1106 431 1100 432 1095 432 1098 432 1107 432 1097 432 1097 432 1092 432 1101 432 1095 432 1100 432 1093 432 1099 432 1101 432 1102 432 1104 433 1105 433 1101 433 1105 433 1103 433 1100 433 1097 433 1093 433 1098 433 1099 433 1105 433 1107 433 1103 433 1096 433 1097 433 1100 433 1099 433 1092 433 1097 433 1105 433 1098 434 1096 434 1099 434 1100 434 1102 434 1098 434 1108 434 1099 434 1098 434 1100 434 1102 434 1096 434 1090 434 1090 434 1099 434 1103 434 1096 435 1104 435 1101 435 1094 435 1088 435 1095 435 1096 435 1095 435 1105 435 1104 435 1093 435 1093 436 1095 436 1096 436 1098 436 1094 436 1097 436 1097 436 1091 436 1099 436 1097 436 1098 436 1096 437 1100 437 1090 437 1093 437 1098 437 1098 437 1092 437 1102 437 1097 437 1097 437 1105 437 1093 437 1093 437 1099 437 1099 437 1095 437 1096 438 1099 438 1095 438 1089 438 1098 438 1095 438 1097 438 1088 438 1102 438 1096 438 1087 438 1093 438 1099 438 1093 439 1099 439 1090 439 1098 439 1096 439 1102 439 1097 439 1096 439 1094 439 1098 439 1083 439 1093 439 1093 439 1090 439 1102 439 1104 440 1083 440 1097 440 1094 440 1089 440 1090 440 1098 440 1092 440 1107 440 1088 440 1091 440 1097 440 1095 440 1087 441 1087 441 1094 441 1095 441 1088 441 1092 441 1096 441 1094 441 1091 441 1094 441 1100 441 1090 442 1081 442 1091 442 1096 442 1095 442 1097 442 1084 442 1088 442 1089 442 1098 442 1089 442 1099 442 1089 442 1085 443 1083 443 1089 443 1095 443 1093 443 1083 443 1095 443 1093 443 1089 443 1094 443 1093 443 1087 443 1091 443 1092 443 1083 444 1087 444 1089 444 1080 444 1094 444 1090 444 1081 444 1089 444 1077 444 1090 444 1084 444 1097 444 1090 444 1086 445 1085 445 1083 445 1083 445 1083 445 1090 445 1087 445 1087 445 1079 445 1081 446 1090 446 1086 446 1094 446 1098 446 1094 446 1087 446 1089 446 1087 446 1088 446 1085 446 1089 446 1091 446 1088 446 1084 446 1085 446 1088 446 1089 446 1095 446 1079 446 1087 446 1084 447 1084 447 1083 447 1093 447 1083 447 1073 447 1081 447 1088 447 1088 447 1084 447 1091 447 1084 447 1078 447 1087 447 1085 448 1091 448 1090 448 1090 448 1086 448 1088 448 1086 448 1083 448 1077 448 1077 448 1081 448 1083 448 1087 448 1086 448 1091 448 1080 448 1079 449 1087 449 1087 449 1082 449 1088 449 1083 449 1081 450 1071 450 1076 450 1084 450 1085 450 1084 450 1085 450 1080 450 1077 450 1084 451 1085 451 1085 451 1089 451 1076 451 1085 451 1076 451 1085 451 1082 451 1083 451 1080 451 1080 451 1079 451 1087 452 1075 452 1085 452 1080 452 1076 452 1074 452 1088 452 1088 452 1077 452 1081 452 1083 452 1074 452 1084 452 1079 452 1079 452 1091 452 1081 452 1080 452 1071 452 1079 453 1075 453 1085 453 1083 453 1074 453 1082 453 1088 453 1080 453 1076 453 1081 453 1079 453 1083 453 1078 453 1083 453 1079 453 1088 453 1087 454 1080 454 1074 454 1072 454 1076 454 1078 454 1083 454 1079 454 1076 454 1082 454 1086 454 1071 454 1089 454 1077 455 1075 455 1085 455 1072 455 1076 455 1077 455 1072 455 1075 455 1078 455 1075 455 1080 455 1073 455 1080 455 1076 455 1076 456 1077 456 1078 456 1068 456 1077 456 1075 456 1073 456 1081 456 1071 456 1074 456 1080 457 1077 457 1074 457 1073 457 1075 457 1075 457 1074 457 1076 457 1080 457 1075 457 1078 458 1078 458 1075 458 1071 458 1072 458 1069 458 1070 459 1072 459 1077 459 1076 459 1069 459 1067 459 1069 459 1077 459 1073 459 1068 459 1075 460 1068 460 1070 460 1072 460 1074 460 1082 460 1073 460 1070 460 1079 460 1072 460 1070 460 1072 460 1072 460 1075 461 1077 461 1071 461 1068 461 1072 461 1074 461 1072 461 1085 461 1070 461 1080 461 1074 461 1065 461 1078 461 1064 461 1074 461 1077 461 1071 461 1068 461 1074 461 1068 462 1074 462 1072 462 1065 462 1068 462 1068 462 1072 462 1067 462 1071 462 1067 462 1077 462 1070 462 1075 463 1070 463 1071 463 1074 463 1070 463 1066 463 1074 463 1069 463 1070 463 1072 463 1068 463 1069 464 1067 464 1066 464 1072 464 1068 464 1065 464 1063 464 1066 464 1067 464 1075 465 1064 465 1068 465 1073 465 1073 465 1077 465 1066 466 1064 466 1072 466 1066 466 1062 466 1070 466 1073 466 1072 466 1059 466 1074 466 1073 466 1068 466 1074 466 1069 466 1072 467 1066 467 1063 467 1069 467 1068 467 1072 467 1066 468 1061 468 1066 468 1063 468 1061 468 1062 468 1065 468 1064 468 1063 468 1061 468 1068 468 1066 469 1060 469 1067 469 1069 469 1067 469 1063 469 1067 469 1062 469 1074 469 1069 469 1077 470 1062 470 1058 470 1062 470 1061 470 1064 470 1064 470 1066 470 1060 470 1063 470 1067 470 1064 470 1068 470 1073 471 1061 471 1060 471 1061 471 1070 471 1062 471 1063 472 1059 472 1071 472 1058 472 1060 472 1059 472 1059 472 1063 473 1067 473 1062 473 1062 473 1060 473 1053 473 1058 473 1066 473 1055 473 1058 473 1073 473 1061 473 1062 474 1066 474 1068 474 1056 474 1062 474 1066 474 1063 474 1065 474 1052 474 1057 474 1072 474 1061 474 1056 475 1069 475 1059 475 1060 475 1060 475 1058 475 1066 475 1062 475 1062 475 1057 475 1065 476 1059 476 1063 476 1060 476 1059 476 1050 476 1066 476 1055 476 1054 477 1058 477 1060 477 1048 477 1056 477 1057 477 1061 477 1061 477 1068 477 1053 477 1061 477 1054 477 1050 477 1056 477 1057 478 1054 478 1065 478 1046 478 1058 478 1062 478 1062 478 1068 478 1055 479 1056 479 1060 479 1060 479 1063 479 1045 479 1061 479 1055 479 1051 479 1058 479 1061 479 1057 479 1057 479 1067 479 1059 479 1063 479 1057 479 1063 479 1058 479 1059 479 1059 480 1052 480 1054 480 1068 480 1055 480 1038 480 1056 480 1063 480 1061 480 1058 480 1060 480 1054 480 1050 480 1052 480 1058 480 1059 480 1063 481 1064 481 1059 481 1056 481 1059 481 1057 481 1054 481 1055 481 1053 481 1066 481 1052 481 1064 481 1058 482 1055 482 1053 482 1052 482 1049 482 1061 482 1046 482 1046 482 1061 482 1059 483 1063 483 1054 483 1057 483 1055 483 1048 483 1060 483 1058 483 1060 483 1047 483 1057 483 1059 483 1056 484 1053 484 1040 484 1055 484 1055 484 1051 484 1052 485 1050 485 1058 485 1047 485 1058 485 1055 485 1050 485 1043 485 1054 485 1057 485 1049 486 1056 486 1060 486 1052 486 1057 486 1056 486 1044 486 1052 486 1050 486 1056 486 1056 486 1055 486 1057 486 1055 487 1047 487 1050 487 1050 487 1048 487 1047 487 1053 487 1052 487 1047 487 1057 487 1045 487 1059 487 1057 488 1041 488 1049 488 1049 488 1059 488 1046 488 1050 488 1069 488 1054 488 1046 488 1051 488 1063 489 1043 489 1056 489 1046 489 1056 489 1049 489 1046 489 1055 489 1045 489 1046 489 1048 489 1058 489 1052 489 1056 489 1049 489 1051 489 1047 490 1042 490 1038 491 1057 491 1052 491 1046 491 1051 491 1060 491 1039 491 1052 491 1046 491 1042 491 1046 492 1048 492 1052 492 1044 492 1045 492 1046 492 1056 492 1050 492 1047 492 1059 492 1050 493 1050 493 1050 493 1034 493 1054 493 1043 493 1049 493 1046 493 1047 493 1046 493 1046 493 1049 493 1042 493 1050 493 1044 494 1043 494 1051 494 1045 494 1056 494 1050 494 1050 494 1040 494 1047 494 1048 494 1047 494 1051 494 1051 494 1050 495 1051 495 1036 495 1054 495 1042 495 1040 495 1048 495 1036 496 1045 496 1050 496 1041 496 1040 496 1053 496 1047 496 1039 496 1047 496 1043 497 1035 497 1046 497 1052 497 1035 497 1037 497 1048 497 1037 497 1047 497 1044 497 1041 497 1042 497 1048 497 1037 498 1051 498 1039 498 1043 498 1041 498 1039 498 1044 498 1033 498 1059 498 1044 498 1036 498 1040 498 1053 498 1039 498 1041 498 1046 499 1035 499 1040 499 1041 499 1033 499 1046 499 1042 499 1048 499 1051 499 1040 500 1038 500 1049 500 1039 500 1043 500 1034 500 1020 500 1033 500 1039 500 1045 500 1039 500 1043 500 1036 501 1040 501 1032 501 1036 501 1036 501 1034 501 1050 501 1046 501 1036 501 1040 501 1035 501 1039 501 1046 502 1039 502 1038 502 1042 502 1029 502 1035 503 1038 503 1045 503 1033 503 1031 503 1034 503 1038 504 1037 504 1037 504 1031 504 1038 504 1028 505 1045 505 1036 505 1024 505 1038 505 1040 505 1034 505 1037 505 1036 505 1034 505 1039 505 1038 505 1025 506 1036 506 1041 506 1031 506 1033 506 1035 506 1042 506 1030 507 1029 507 1015 507 1036 507 1035 507 1031 507 1036 507 1028 507 1033 507 1025 507 1035 507 1036 508 1035 508 1041 508 1042 508 1039 508 1035 508 1033 509 1038 509 1029 509 1033 509 1030 509 1029 509 1029 509 1025 510 1034 510 1053 510 1038 510 1028 510 1031 510 1022 510 1033 510 1024 510 1034 511 1033 511 1027 511 1015 511 1035 511 1029 511 1036 511 1044 511 1029 511 1034 511 1023 511 1037 511 1037 511 1033 511 1034 512 1035 512 1027 512 1027 512 1033 512 1039 512 1025 512 1032 512 1029 512 1024 512 1030 512 1030 512 1030 513 1024 513 1039 513 1027 513 1026 513 1048 514 1023 514 1029 514 1036 514 1031 514 1026 514 1029 514 1032 514 1034 514 1034 514 1024 515 1027 515 1028 515 1022 515 1024 515 1027 515 1021 515 1023 515 1029 515 1027 515 1022 515 1034 516 1023 516 1022 516 1024 516 1033 516 1030 516 1034 516 1030 516 1026 516 1029 516 1029 516 1004 517 1029 517 1021 517 1018 517 1006 517 1020 517 1026 517 1031 517 1023 517 1036 517 1028 517 1029 517 1027 518 1026 518 1027 518 1023 518 1029 518 1029 518 1021 518 1024 518 1020 519 1022 519 1026 519 1030 519 1032 519 1032 519 1026 520 1019 520 1038 520 1025 520 1021 520 1021 520 1027 520 1024 521 1015 521 1023 521 1025 521 1020 521 1018 521 1028 521 1031 522 1021 522 1017 522 1024 522 1011 522 1023 522 1024 522 1019 522 1019 522 1019 522 1015 523 1027 523 1006 523 1021 523 1020 523 1022 523 1020 524 1008 524 1018 524 1026 524 1019 524 1027 524 1018 524 1026 524 1021 524 1018 524 1018 525 1009 525 1032 525 1014 526 1021 526 1020 526 1017 526 1027 526 1015 526 1017 526 1012 526 1020 526 1016 526 1017 527 1010 527 1021 527 1016 527 1020 527 1013 527 1018 527 1013 527 1008 527 1020 527 1011 528 1020 528 1003 528 1027 528 1017 528 1008 528 1015 528 1015 529 1018 529 1016 529 1006 529 1015 529 1024 529 1015 530 1001 530 1008 530 1016 531 1014 531 1007 531 1007 531 1019 531 1019 531 1015 531 1004 531 1003 532 1008 532 993 532 1017 532 1005 532 1010 532 1009 532 1005 532 1014 532 1016 533 1014 533 1010 533 1016 533 1005 533 1012 533 1007 534 1007 534 1003 534 1006 534 1018 534 1010 534 1005 534 1017 535 1010 535 1007 535 1004 535 1016 536 1015 536 1004 536 1011 536 1005 536 996 537 1010 537 1004 537 1014 537 1014 537 1007 537 1004 537 997 538 1009 538 1008 538 1000 538 1005 538 1007 538 1004 538 1006 538 994 539 1006 539 999 539 1005 539 992 539 1007 539 1000 539 1003 539 999 539 999 540 1000 540 1008 540 1003 540 1004 540 1004 540 1003 540 1006 540 1007 541 1010 541 1007 541 1004 541 1001 541 1001 541 1011 541 1004 542 1005 542 1006 542 1005 542 1007 542 1002 542 1007 543 1004 543 1002 543 1001 543 1013 543 999 543 1002 543 1005 544 996 544 1003 544 1002 544 998 544 991 545 998 545 1000 545 998 545 1010 546 1001 546 1014 546 999 546 995 546 1003 547 1004 547 999 547 1001 547 996 547 996 547 997 547 993 547 1006 548 992 548 1010 548 998 548 1004 549 1000 549 997 549 1002 549 1001 550 994 550 995 550 998 551 983 551 996 551 996 551 990 551 996 551 1000 552 1001 552 995 552 1003 552 998 552 988 552 1003 552 999 552 999 552 987 552 986 552 1008 553 982 553 1002 553 999 554 990 554 998 554 991 554 994 555 984 555 996 555 980 555 989 555 996 556 994 556 996 556 984 556 997 556 996 556 995 556 995 557 1004 557 991 557 993 558 1001 558 987 558 989 558 985 558 985 558 988 558 996 559 985 559 993 559 989 559 992 559 990 559 985 560 979 560 987 560 986 560 984 560 991 560 981 560 993 561 976 561 994 561 983 561 995 561 988 561 979 561 988 561 970 561 986 561 987 561 989 562 989 562 996 562 985 562 991 562 982 562 999 563 991 563 976 563 992 564 979 564 983 564 989 564 989 564 996 565 986 565 988 565 979 565 982 565 983 565 977 566 978 566 988 566 976 566 975 566 982 566 989 566 977 566 994 567 984 567 981 567 981 567 979 568 985 568 993 568 991 568 984 568 981 569 974 569 970 569 969 569 988 569 981 569 986 570 972 570 985 570 975 570 978 571 982 571 965 571 987 571 970 571 967 571 979 572 971 572 956 572 978 573 969 573 983 573 995 573 978 573 970 573 976 573 981 574 984 574 985 574 971 575 982 575 968 576 971 576 972 576 977 576 971 576 978 577 957 577 976 577 973 577 973 577 971 578 966 578 966 579 985 579 965 579 973 579 983 579 967 580 971 580 967 580 975 580 970 580 977 580 970 580 975 580 977 580 970 581 963 581 968 581 974 581 985 581 978 581 966 582 971 582 984 582 968 583 975 583 973 583 965 583 973 583 979 583 971 583 974 584 973 584 963 584 962 584 965 585 969 585 961 585 960 586 977 586 959 586 977 586 963 586 961 586 960 586 975 586 980 586 970 587 960 587 959 587 977 587 964 588 967 588 956 588 970 588 964 588 967 588 962 588 956 589 965 589 965 589 976 589 957 589 969 589 968 590 961 590 965 590 973 590 970 591 976 591 964 591 949 591 955 591 979 592 956 592 954 592 959 592 971 592 965 593 960 593 961 593 961 593 957 593 954 593 961 593 969 593 960 593 980 593 964 594 955 594 950 594 955 595 962 595 959 596 960 596 957 596 955 596 958 596 968 597 964 597 955 597 955 597 955 597 964 597 955 597 952 598 972 598 959 598 961 598 953 599 962 599 959 599 966 600 942 600 958 600 956 600 964 600 961 601 946 601 954 601 961 601 958 601 949 601 951 601 955 601 957 601 956 601 964 602 957 602 958 603 962 603 953 603 948 604 945 604 954 604 957 604 959 604 953 605 949 605 944 606 949 607 950 607 956 607 949 607 941 607 944 607 957 608 944 608 955 608 932 609 942 609 940 609 954 610 956 610 962 610 956 611 953 611 947 611 942 611 946 611 956 611 957 611 944 612 942 612 940 613 948 613 932 613 942 613 945 614 944 614 947 614 940 615 938 615 938 615 949 616 943 616 942 616 945 616 945 616 952 616 940 616 940 617 941 617 950 617 939 617 951 617 937 617 946 617 933 617 946 618 940 618 943 618 936 618 951 619 937 621 929 622 941 622 944 622 939 622 934 623 944 624 925 624 939 624 922 624 936 624 943 625 945 625 940 625 938 628 930 628 927 628 931 628 929 629 923 629 938 629 929 629 938 631 925 631 930 631 919 632 943 632 927 633 932 633 938 633 932 633 923 634 923 634 923 634 926 635 933 635 921 635 929 636 932 636 926 636 933 637 928 637 921 637 927 638 912 638 918 639 928 639 932 639 931 639 921 639 932 639 925 640 925 642 920 642 921 642 919 643 918 644 923 644 923 645 926 645 916 645 918 645 922 646 912 646 924 646 914 647 916 647 927 647 915 647 928 647 915 647 921 648 918 650 914 650 915 650 915 650 914 651 920 652 915 652 917 653 907 653 921 654 913 654 907 654 903 655 920 656 917 656 913 656 911 656 910 657 903 657 913 657 907 658 909 658 906 659 908 660 908 660 902 660 908 661 912 661 913 661 901 662 902 662 908 662 895 663 900 663 917 664 898 664 886 664 909 664 903 665 914 665 905 665 903 665 897 665 903 666 902 667 900 667 904 668 898 668 907 668 893 669 896 670 899 670 888 670 900 670 907 670 897 671 906 671 909 671 899 672 896 672 893 673 895 673 898 673 885 673 895 674 895 675 896 676 900 676 889 676 894 676 902 676 890 677 891 678 883 678 887 679 891 679 897 679 879 680 878 681 892 682 884 682 899 682 881 683 887 683 884 683 895 683 894 684 884 684 900 684 891 684 892 685 894 685 883 685 888 685 896 685 884 686 884 686 884 687 891 687 867 688 886 688 885 688 886 688 888 688 883 688 879 690 885 690 877 691 883 691 883 692 878 692 872 692 881 692 887 693 889 693 871 693 875 694 887 695 878 696 864 696 880 697 881 697 877 697 866 697 896 700 870 701 866 702 871 702 875 702 871 704 866 704 882 704 869 705 879 705 874 705 869 707 874 708 866 708 875 709 855 710 858 710 872 710 880 711 856 711 864 711 865 712 861 712 863 713 844 714 878 715 847 716 869 719 859 719 857 722 856 722 847 723 841 723 853 723 859 724 848 729 848 729 851 730 843 731 845 732 849 732 848 732 859 733 838 735 835 737 835 737 838 737 853 737 852 739 845 740 833 740 843 740 842 741 831 742 836 743 830 743 843 743 832 744 832 745 822 745 842 746 840 747 845 747 829 747 823 747 839 747 834 750 830 750 845 750 837 751 828 751 833 754 829 754 820 755 827 755 842 756 841 756 806 756 838 759 820 759 842 761 831 762 825 765 827 766 820 767 812 767 814 768 817 769 809 769 811 770 803 770 811 771 805 772 815 772 799 773 811 774 802 774 803 775 811 775 811 776 807 777 796 777 796 777 822 778 814 781 797 783 797 783 794 784 803 784 808 784 808 785 788 788 798 789 802 790 793 791 803 793 788 794 800 795 793 795 783 796 797 798 786 799 787 799 794 800 794 801 797 808 766 808 768 809 772 811 771 814 784 814 766 814 776 818 764 819 758 819 764 820 770 821 773 821 771 822 768 822 772 823 786 823 772 824 757 825 759 826 768 826 767 827 760 827 767 829 743 829 775 829 769 831 757 831 773 834 760 837 758 839 742 840 747 840 749 842 763 842 749 843 756 843 764 849 744 853 748 853 755 854 752 854 740 854 737 857 750 858 719 859 737 861 725 862 738 863 727 866 720 866 732 866 744 866 723 867 735 867 734 868 731 868 724 870 730 871 732 874 735 878 718 879 726 880 722 880 721 881 730 882 726 883 718 887 710 888 726 888 707 893 723 895 711 896 713 897 703 898 699 900 720 901 702 902 696 902 687 904 689 906 709 912 696 914 698 915 707 916 669 918 679 918 681 918 689 919 704 921 689 921 707 922 685 923 690 923 682 926 676 926 681 927 683 928 682 929 674 930 692 931 702 931 673 932 662 934 659 936 681 937 682 939 678 942 668 943 679 945 666 945 660 946 666 946 671 947 661 949 653 949 649 950 656 953 677 954 666 955 665 955 646 955 649 957 658 957 670 958 647 959 650 960 650 961 661 961 638 963 653 965 655 968 663 969 634 971 664 972 628 974 653 974 638 976 658 977 649 977 632 978 635 979 642 980 641 980 646 981 648 984 634 984 636 984 623 986 640 986 638 986 623 988 625 991 635 995 628 995 647 996 614 997 598 999 615 1000 627 1002 625 1006 619 1007 596 1010 609 1011 629 1013 625 1013 604 1013 594 1013 597 1015 618 1016 600 1017 602 1018 615 1019 591 1022 596 1024 587 1026 605 1027 607 1029 595 1030 574 1033 580 1035 599 1035 581 1036 581 1038 577 1039 586 1041 560 1045 591 1047 561 1048 585 1050 561 1052 589 1053 591 1053 566 1055 577 1057 566 1057 560 1060 530 1061 572 1062 580 1062 542 1063 590 1064 547 1065 560 1066 553 1066 537 1066 565 1068 545 1071 567 1072 551 1073 560 1078 544 1080 547 1081 549 1083 559 1083 547 1085 546 1087 547 1087 529 1088 565 1088 546 1089 552 1094 531 1095 539 1096 541 1098 532 1104 509 1110 504 1110 516 1110 510 1111 511 1113 527 1122 507 1128 518 1129 506 1129 494 1132 488 1134 500 1137 506 1140 501 1141 481 1143 498 1143 474 1144 487 1147 485 1150 484 1152 488 1160 487 1162 476 1163 478 1164 456 1165 490 1170 467 1171 443 1171 460 1173 470 1176 471 1177 490 1178 463 1180 463 1181 463 1183 472 1187 454 1192 448 1194 441 1198 471 1204 443 1208 421 1208 449 1208 445 1210 414 1210 439 1215 437 1217 451 1217 432 1219 413 1220 427 1222 442 1225 429 1229 429 1234 431 1235 418 1236 416 1241 430 1243 404 1245 398 1248 403 1254 408 1255 383 1256 405 1258 398 1292 370 1298 352 1302 354 1308 354 1315 364 1323 364 1336 347 1349 317 1359 337 1374 313 1393 296 1394 289 1398 285 1399 302 1402 294 1404 291 1415 306 1437 256 1440 258 1444 270 1448 263 1462 246 1414 431 1513 208 1666 203 1010 758 517 1162 335 1251 1264 386 1272 377 1278 392 1283 388 1286 396 1280 399 1275 385 1259 395" fill="none" stroke="none" marker-start="url(#m)" marker-mid="url(#m)" marker-end="url(#m)"/><line x1="220.2" y1="1284.5" x2="1683.0" y2="35.0" stroke="#000" stroke-width="5.7"/><text transform="translate(220.20 1344.30) scale(1.1270 1.0000)" text-anchor="middle" font-size="52.0" stroke="#000" stroke-width="0.4" >0</text><text transform="translate(464.00 1344.30) scale(1.1270 1.0000)" text-anchor="middle" font-size="52.0" stroke="#000" stroke-width="0.4" >0.1</text><text transform="translate(707.80 1344.30) scale(1.1270 1.0000)" text-anchor="middle" font-size="52.0" stroke="#000" stroke-width="0.4" >0.2</text><text transform="translate(951.60 1344.30) scale(1.1270 1.0000)" text-anchor="middle" font-size="52.0" stroke="#000" stroke-width="0.4" >0.3</text><text transform="translate(1195.40 1344.30) scale(1.1270 1.0000)" text-anchor="middle" font-size="52.0" stroke="#000" stroke-width="0.4" >0.4</text><text transform="translate(1439.20 1344.30) scale(1.1270 1.0000)" text-anchor="middle" font-size="52.0" stroke="#000" stroke-width="0.4" >0.5</text><text transform="translate(1683.00 1344.30) scale(1.1270 1.0000)" text-anchor="middle" font-size="52.0" stroke="#000" stroke-width="0.4" >0.6</text><text transform="translate(203.00 1302.50) scale(1.1270 1.0000)" text-anchor="end" font-size="52.0" stroke="#000" stroke-width="0.4" >0</text><text transform="translate(203.00 1094.25) scale(1.1270 1.0000)" text-anchor="end" font-size="52.0" stroke="#000" stroke-width="0.4" >0.1</text><text transform="translate(203.00 886.00) scale(1.1270 1.0000)" text-anchor="end" font-size="52.0" stroke="#000" stroke-width="0.4" >0.2</text><text transform="translate(203.00 677.75) scale(1.1270 1.0000)" text-anchor="end" font-size="52.0" stroke="#000" stroke-width="0.4" >0.3</text><text transform="translate(203.00 469.50) scale(1.1270 1.0000)" text-anchor="end" font-size="52.0" stroke="#000" stroke-width="0.4" >0.4</text><text transform="translate(203.00 261.25) scale(1.1270 1.0000)" text-anchor="end" font-size="52.0" stroke="#000" stroke-width="0.4" >0.5</text><rect x="309.95" y="98.95" width="598.95" height="148.45" fill="#fff" stroke="#000" stroke-width="3.6"/><path d="M422.0 129.15l25.6 21.5m0 -21.5l-25.6 21.5" stroke="#f00" stroke-width="3.3" fill="none"/><path d="M345 205.7H523" stroke="#000" stroke-width="6.3"/><text transform="translate(540.50 158.00) scale(1.1270 1.0000)" text-anchor="start" font-size="52.0" stroke="#000" stroke-width="0.4" >concentration</text><text transform="translate(542.00 222.60) scale(1.1270 1.0000)" text-anchor="start" font-size="52.0" stroke="#000" stroke-width="0.4" >y = x</text><text transform="translate(301.80 348.20) scale(1.1270 1.0000)" text-anchor="start" font-size="52.0" stroke="#000" stroke-width="0.8" >RMSE = 0.0058315</text><text transform="translate(301.80 431.40) scale(1.1270 1.0000)" text-anchor="start" font-size="52.0" stroke="#000" stroke-width="0.8" >R = 0.99662</text><text transform="translate(953.00 1407.10) scale(1.1270 1.0000)" text-anchor="middle" font-size="52.0" stroke="#000" stroke-width="0.4" >model prediction concentration (mg/m3)</text><text transform="translate(82.2 658.75) rotate(-90) scale(0.966 1.15)" text-anchor="middle" font-size="52.0" stroke="#000" stroke-width="0.4">real concentration (mg/m3)</text><text transform="translate(875.4 1578) scale(0.933 1)" text-anchor="middle" font-family="Liberation Serif, serif" font-size="86.8">(<tspan font-weight="bold">c</tspan>)</text></svg></body></html>
